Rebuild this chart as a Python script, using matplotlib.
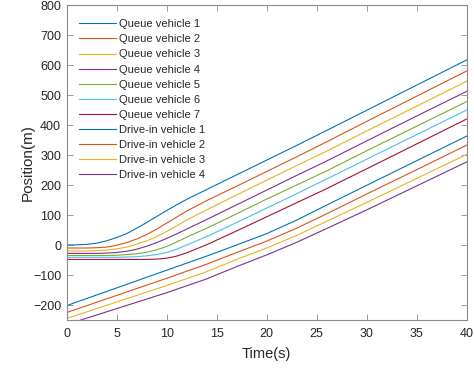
import matplotlib
matplotlib.use("Agg")
import matplotlib.pyplot as plt

plt.rcParams['font.family'] = ['Liberation Sans', 'DejaVu Sans']

# time samples (s)
t_queue = [0, 1, 2, 3, 4, 5, 6, 7, 8, 9, 10, 11, 12, 14, 17, 20, 23, 26, 30, 35, 40]
t_drive = [0, 5, 10, 14, 17, 20, 23, 26, 30, 35, 40]

queue_1 = [0, 0.5, 2, 6, 14, 25, 38, 56, 75, 95, 115, 134, 152, 185, 234, 283, 332, 382, 449, 533, 617]
queue_2 = [-10, -10, -10, -9, -7, -1, 8, 20, 35, 53, 73, 93, 113, 148, 196, 245, 294, 344, 412, 496, 580]
queue_3 = [-20, -20, -20, -19, -17, -13, -7, 3, 14, 28, 45, 64, 83, 117, 167, 216, 265, 313, 380, 463, 546]
queue_4 = [-28, -28, -28, -28, -27, -25, -21, -14, -4, 8, 22, 37, 53, 85, 134, 183, 232, 280, 347, 430, 512]
queue_5 = [-35, -35, -35, -35, -35, -34, -32, -29, -24, -16, -5, 10, 26, 56, 104, 153, 200, 247, 314, 396, 478]
queue_6 = [-41, -41, -41, -41, -41, -41, -40, -39, -36, -32, -25, -14, 0, 28, 75, 123, 171, 220, 286, 368, 450]
queue_7 = [-48, -48, -48, -48, -48, -48, -48, -48, -48, -47, -44, -37, -26, 1, 47, 94, 141, 188, 254, 337, 420]

drive_1 = [-202, -143, -84, -37, 0, 38, 83, 133, 199, 281, 363]
drive_2 = [-225, -168, -111, -64, -25, 13, 56, 104, 170, 251, 333]
drive_3 = [-245, -190, -135, -89, -48, -10, 32, 79, 142, 222, 302]
drive_4 = [-265, -212, -159, -113, -72, -33, 9, 55, 117, 197, 277]

queue_series = [queue_1, queue_2, queue_3, queue_4, queue_5, queue_6, queue_7]
drive_series = [drive_1, drive_2, drive_3, drive_4]
queue_labels = ["Queue vehicle %d" % i for i in range(1, 8)]
drive_labels = ["Drive-in vehicle %d" % i for i in range(1, 5)]

colors = ['#0072BD', '#D95319', '#EDB120', '#7E2F8E', '#77AC30', '#4DBEEE', '#A2142F']

fig = plt.figure(figsize=(4.74, 3.82), dpi=100)
ax = fig.add_axes([0.1407, 0.1623, 0.9846 - 0.1407, 0.9869 - 0.1623])

for i, (y, lab) in enumerate(zip(queue_series, queue_labels)):
    ax.plot(t_queue, y, color=colors[i % 7], lw=0.8, label=lab)
for i, (y, lab) in enumerate(zip(drive_series, drive_labels)):
    ax.plot(t_drive, y, color=colors[i % 7], lw=0.8, label=lab)

ax.set_xlim(0, 40)
ax.set_ylim(-250, 800)
ax.set_xticks(range(0, 41, 5))
ax.set_yticks(range(-200, 801, 100))
ax.tick_params(direction='in', top=True, right=True, length=4, width=0.6,
               colors='#8a8a8a', labelcolor='#262626', labelsize=9)
ax.tick_params(axis='x', pad=5.5)
ax.tick_params(axis='y', pad=4)
for s in ax.spines.values():
    s.set_color('#8a8a8a')
    s.set_linewidth(0.8)

ax.set_xlabel("Time(s)", fontsize=10.5, color='#262626', labelpad=5)
ax.set_ylabel("Position(m)", fontsize=11, color='#262626', labelpad=-1)

leg = ax.legend(loc='upper left', frameon=False, fontsize=8, handlelength=3.3,
                handletextpad=0.28, labelspacing=0.46, borderaxespad=0.0,
                borderpad=0.0, bbox_to_anchor=(0.032, 0.955))
for txt in leg.get_texts():
    txt.set_color('#262626')

fig.savefig("out.png", dpi=100)
